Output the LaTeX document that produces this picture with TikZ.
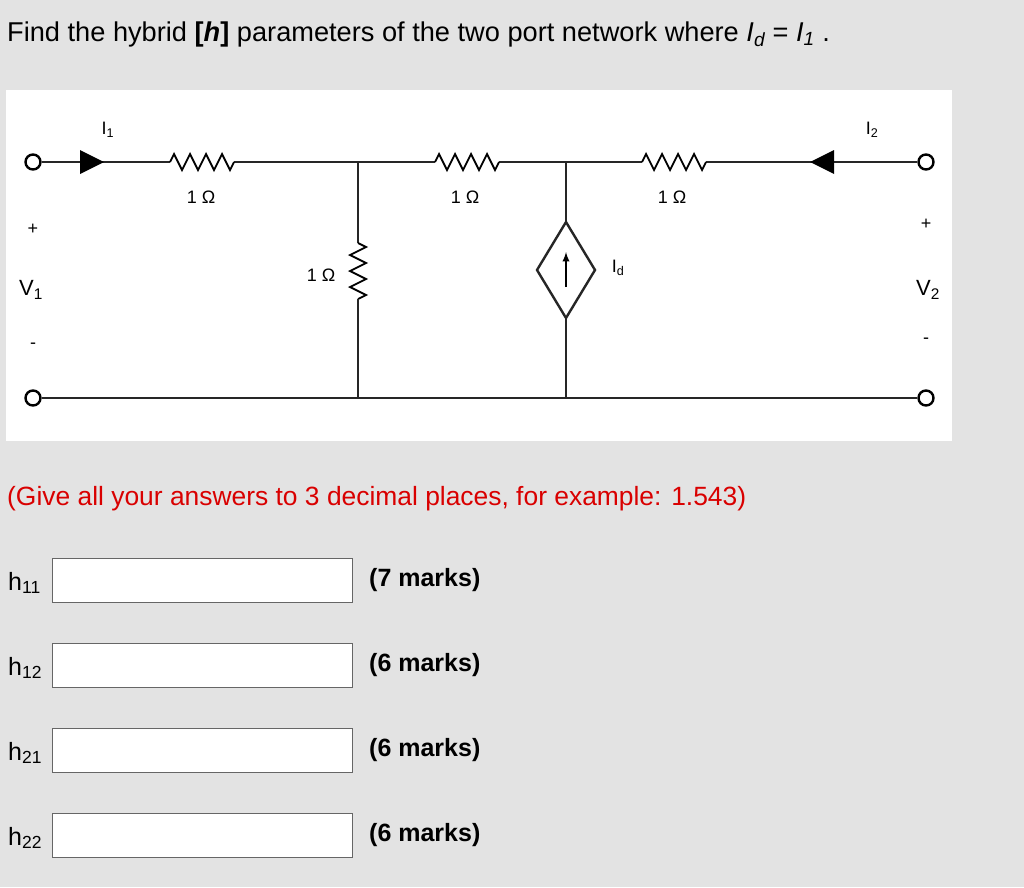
\documentclass[tikz,border=0pt]{standalone}
\usepackage{fontspec}
\setmainfont{Liberation Sans}
\usetikzlibrary{decorations.pathmorphing}
\begin{document}
\begin{tikzpicture}[x=1pt,y=-1pt,
  wire/.style={line width=2.4pt,black!85},
  term/.style={circle,draw,line width=2.4pt,minimum size=15pt,inner sep=0pt,fill=white},
  res/.style={line width=1.8pt,decorate,decoration={zigzag,segment length=16pt,amplitude=8pt}},
  lbl/.style={font=\fontsize{18}{20}\selectfont,inner sep=0pt},
  ansbox/.style={draw=black!60,fill=white,minimum width=300pt,minimum height=44pt,inner sep=0pt},
  hl/.style={font=\fontsize{25}{28}\selectfont,anchor=west,inner sep=0pt},
  mk/.style={font=\fontsize{25}{28}\selectfont\bfseries,anchor=west,inner sep=0pt}]
\fill[gray!22] (0,0) rectangle (1024,887);
\useasboundingbox (0,0) rectangle (1024,887);
\fill[white] (6,90) rectangle (952,441);
\node[anchor=west,inner sep=0pt,font=\fontsize{27.2}{30}\selectfont] (title) at (7,34) {Find the hybrid \textbf{[\textit{h}]} parameters of the two port network where \textit{I\textsubscript{d}} = \textit{I\textsubscript{1}} .};
% terminals
\node[term] (t1) at (33,162) {};
\node[term] (b1) at (33,398) {};
\node[term] (t2) at (926,162) {};
\node[term] (b2) at (926,398) {};
\coordinate (ra1) at (170,162); \coordinate (rb1) at (234,162);
\coordinate (n1) at (358,162); \coordinate (m1) at (358,398);
\coordinate (ra2) at (435,162); \coordinate (rb2) at (499,162);
\coordinate (n2) at (566,162); \coordinate (m2) at (566,398);
\coordinate (ra3) at (642,162); \coordinate (rb3) at (706,162);
\coordinate (va) at (358,243); \coordinate (vb) at (358,299);
\draw[wire] (t1) -- (ra1); \draw[wire] (rb1) -- (ra2); \draw[wire] (rb2) -- (ra3); \draw[wire] (rb3) -- (t2);
\draw[res] (ra1) -- (rb1); \draw[res] (ra2) -- (rb2); \draw[res] (ra3) -- (rb3);
\draw[wire] (b1) -- (b2);
\draw[wire] (n1) -- (va); \draw[res] (va) -- (vb); \draw[wire] (vb) -- (m1);
% diamond source
\coordinate (dt) at (566,222); \coordinate (db) at (566,318);
\draw[wire,fill=white] (566,222) -- (595,270) -- (566,318) -- (537,270) -- cycle;
\draw[wire] (n2) -- (dt); \draw[wire] (db) -- (m2);
\draw[line width=2.2pt,-latex] (566,287) -- (566,252);
% arrows
\fill (80,150) -- (104,162) -- (80,174) -- cycle;
\fill (834,150) -- (810,162) -- (834,174) -- cycle;
% labels
\node[lbl] at (108,130) {I\textsubscript{1}};
\node[lbl] at (872,130) {I\textsubscript{2}};
\node[lbl] at (201,197) {1 Ω};
\node[lbl] at (465,197) {1 Ω};
\node[lbl] at (672,197) {1 Ω};
\node[lbl] at (321,275) {1 Ω};
\node[lbl] at (618,268) {I\textsubscript{d}};
\node[lbl] at (33,229) {+};
\node[lbl,font=\fontsize{22}{24}\selectfont] at (31,290) {V\textsubscript{1}};
\node[lbl] at (33,346) {-};
\node[lbl] at (926,224) {+};
\node[lbl,font=\fontsize{22}{24}\selectfont] at (928,290) {V\textsubscript{2}};
\node[lbl] at (926,341) {-};
\node[anchor=west,inner sep=0pt,text=red!85!black,font=\fontsize{26.4}{29}\selectfont] (note) at (7,499) {(Give all your answers to 3 decimal places, for example: 1.543)};
\foreach \y/\s/\m in {580/11/7,665/12/6,750/21/6,835/22/6}{
  \node[hl] at (8,\y+3) {h\textsubscript{\s}};
  \node[ansbox] at (202,\y) {};
  \node[mk] at (369,\y) {(\m\ marks)};
}
\end{tikzpicture}
\end{document}
